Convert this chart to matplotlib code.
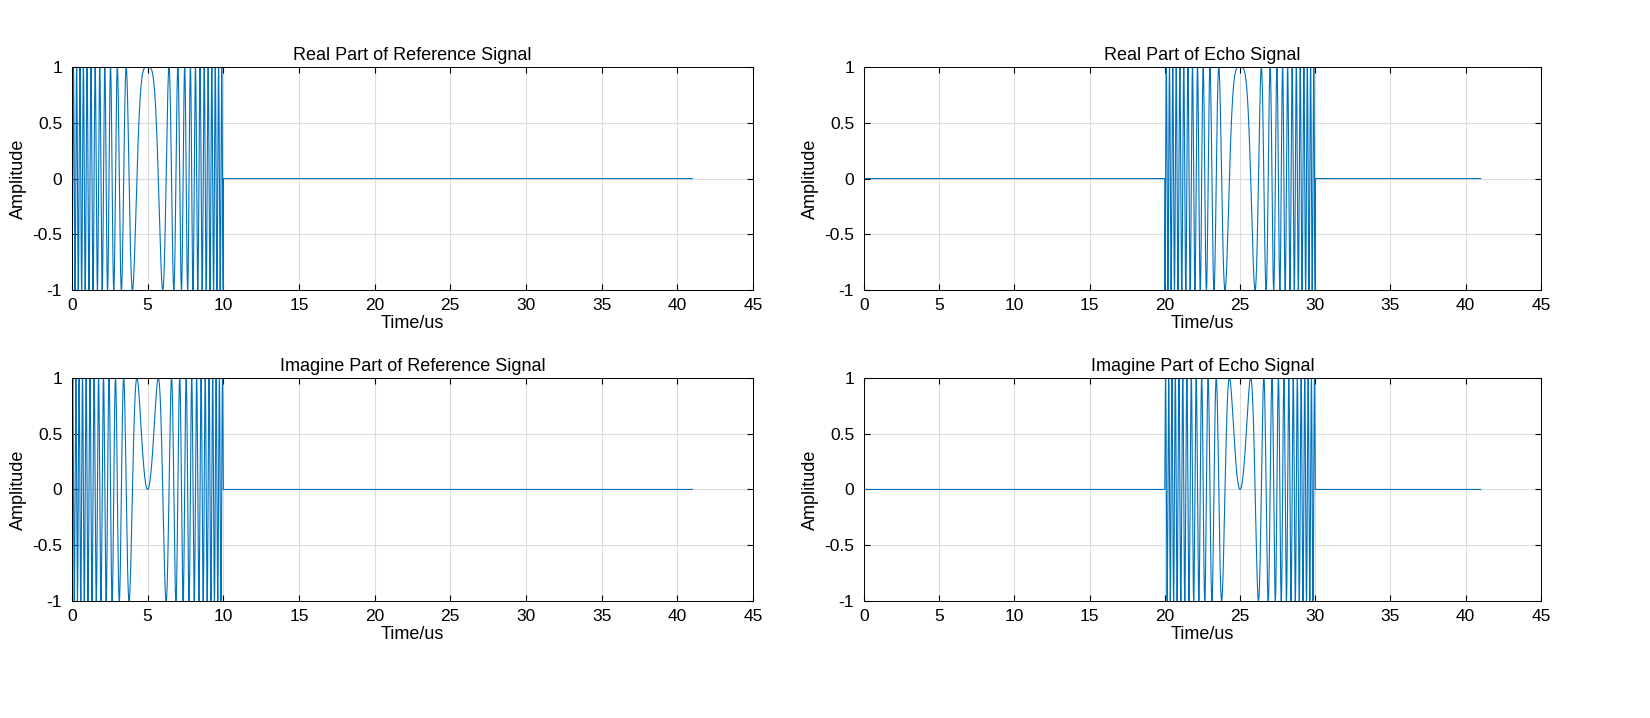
import numpy as np
import matplotlib
matplotlib.use("Agg")
import matplotlib.pyplot as plt

# Signal parameters (LFM chirp)
pulse_width_us = 10.0
bandwidth_mhz = 10.0
fs_mhz = 200.0
total_time_us = 41.0
echo_delay_us = 20.0
xticks = [0, 5, 10, 15, 20, 25, 30, 35, 40, 45]
yticks = [-1, -0.5, 0, 0.5, 1]
ytick_labels = ["-1", "-0.5", "0", "0.5", "1"]
titles = [["Real Part of Reference Signal", "Real Part of Echo Signal"],
          ["Imagine Part of Reference Signal", "Imagine Part of Echo Signal"]]

t = np.arange(0, total_time_us, 1 / fs_mhz)
K = bandwidth_mhz / pulse_width_us  # MHz/us

def chirp(delay):
    tt = t - delay
    inside = (tt >= 0) & (tt <= pulse_width_us)
    s = np.exp(1j * np.pi * K * (tt - pulse_width_us / 2) ** 2)
    return np.where(inside, s, 0)

ref = chirp(0.0)
echo = chirp(echo_delay_us)
data = [[ref.real, echo.real], [ref.imag, echo.imag]]

plt.rcParams['font.family'] = ['Liberation Sans', 'DejaVu Sans']
fig = plt.figure(figsize=(16.5, 7.18), dpi=100)
lefts = [0.0436, 0.5236]
widths = [0.4127, 0.4103]
bottoms = [0.596, 0.163]
h = 0.3106
for r in range(2):
    for c in range(2):
        ax = fig.add_axes([lefts[c], bottoms[r], widths[c], h])
        ax.plot(t, data[r][c], color='#0072BD', lw=0.8)
        ax.set_xlim(0, 45)
        ax.set_ylim(-1, 1)
        ax.set_xticks(xticks)
        ax.set_yticks(yticks)
        ax.set_yticklabels(ytick_labels)
        ax.grid(True, color='#dcdcdc', lw=0.8)
        ax.set_axisbelow(True)
        ax.tick_params(direction='in', labelsize=12.5, length=4, top=True, right=True,
                       labeltop=False, labelright=False)
        ax.tick_params(axis='x', pad=6)
        ax.tick_params(axis='y', pad=7)
        ax.set_title(titles[r][c], fontsize=13, pad=5)
        ax.set_xlabel("Time/us", fontsize=13, labelpad=1)
        ax.set_ylabel("Amplitude", fontsize=13, labelpad=4)
        for s in ax.spines.values():
            s.set_linewidth(0.7)
fig.savefig("out.png", dpi=100)
